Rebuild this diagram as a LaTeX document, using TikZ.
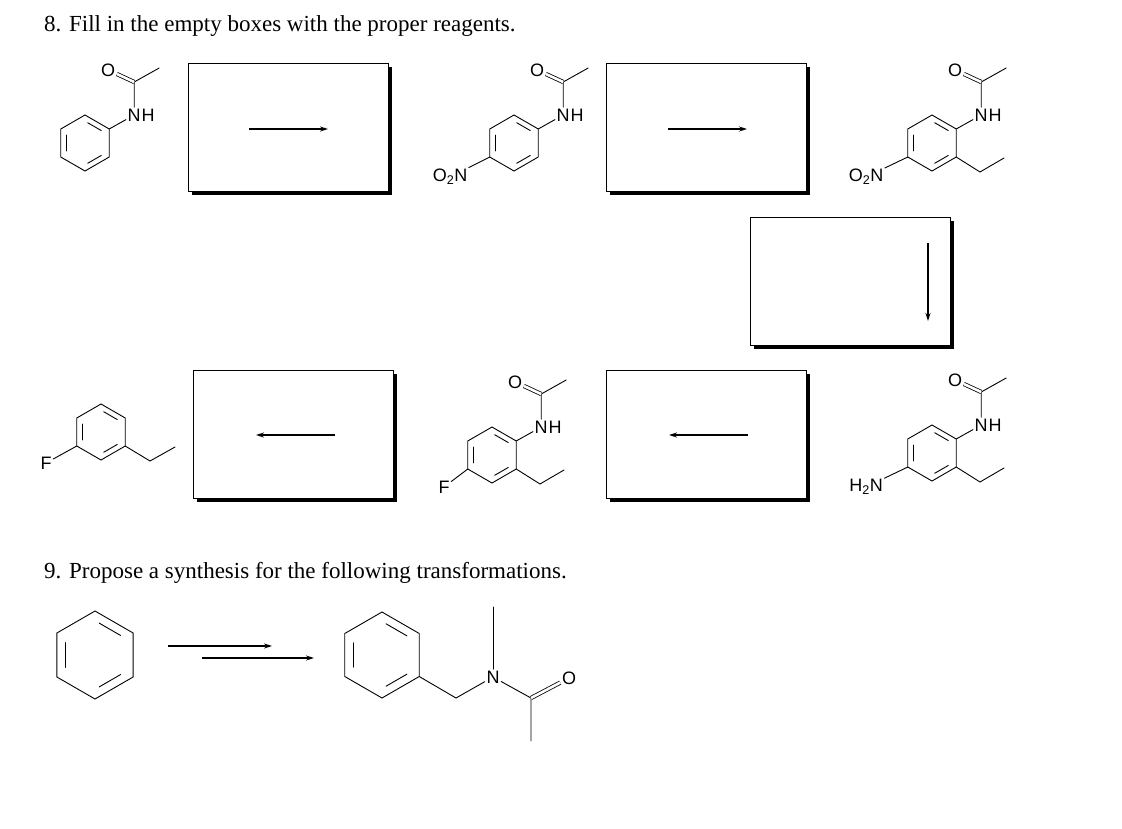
\documentclass[tikz,border=0pt]{standalone}
\usepackage{fontspec}
\setmainfont{Liberation Serif}
\newfontfamily\lsans{Liberation Sans}
\usetikzlibrary{calc,arrows.meta}
\tikzset{bond/.style={line width=0.9pt,line cap=round},
 dbond/.style={line width=0.8pt,double,double distance=2.6pt},
 atom/.style={font=\lsans\fontsize{18}{18}\selectfont,inner sep=1.5pt},
 rarrow/.style={line width=1.2pt,-{Stealth[length=8pt,width=5pt]}},
 heading/.style={font=\fontsize{23}{25}\selectfont,anchor=base west,inner sep=0}}
\newcommand{\benz}[3]{%
 \begin{scope}[shift={(#1,#2)}]
 \draw[bond] (-90:#3)--(-30:#3)--(30:#3)--(90:#3)--(150:#3)--(210:#3)--cycle;
 \foreach \a in {-90,30,150}{
  \draw[bond] ($(\a:0.78*#3)!0.14!(\a+60:0.78*#3)$)--($(\a+60:0.78*#3)!0.14!(\a:0.78*#3)$);}
 \end{scope}}
\newcommand{\rshadowbox}[4]{%
 \fill[black] (#1+4,#2+4) rectangle (#3+4,#4+4);
 \draw[fill=white,line width=0.8pt] (#1,#2) rectangle (#3,#4);}
\newcommand{\acet}[3]{%
 \coordinate (#3v) at (#1,#2);
 \node[atom] (#3n) at ($(#3v)+(25,-14)$) {N};
 \node[atom,anchor=west,inner sep=0] (#3h) at ($(#3n.east)+(-1,0)$) {H};
 \coordinate (#3c) at ($(#3n)+(0,-33)$);
 \node[atom] (#3o) at ($(#3c)+(-26,-12)$) {O};
 \coordinate (#3m) at ($(#3c)+(25,-14)$);
 \draw[bond] (#3v)--(#3n);
 \draw[bond] (#3n)--(#3c)--(#3m);
 \draw[dbond] (#3c)--(#3o);}
\begin{document}
\begin{tikzpicture}[x=1pt,y=-1pt]
\useasboundingbox (0,0) rectangle (1122,828);
\fill[white] (0,0) rectangle (1122,828);
\node[heading] at (44,31) {8. Fill in the empty boxes with the proper reagents.};
\node[heading] at (44,578) {9. Propose a synthesis for the following transformations.};
\rshadowbox{188}{63}{388}{191}
\rshadowbox{606}{63}{806}{191}
\rshadowbox{750}{217}{950}{345}
\rshadowbox{193}{370}{393}{498}
\rshadowbox{606}{370}{806}{498}
\coordinate (a1s) at (249,129); \coordinate (a1e) at (328,129);
\coordinate (a2s) at (668,129); \coordinate (a2e) at (747,129);
\coordinate (a3s) at (928,243); \coordinate (a3e) at (928,321);
\coordinate (a4s) at (335,435); \coordinate (a4e) at (256,435);
\coordinate (a5s) at (748,435); \coordinate (a5e) at (669,435);
\foreach \i in {1,...,5}{\draw[rarrow] (a\i s)--(a\i e);}
\benz{85}{143}{28}
\acet{109.2}{129}{m1}
\benz{514}{143}{28}
\acet{538.2}{129}{m2}
\node[atom] (m2no) at (450,177) {O\textsubscript{2}N};
\draw[bond] (489.8,157)--(m2no);
\benz{932}{143}{28}
\acet{956.2}{129}{m3}
\node[atom] (m3no) at (866,177) {O\textsubscript{2}N};
\draw[bond] (907.8,157)--(m3no);
\draw[bond] (956.2,157)--(980,172)--(1004,158);
\benz{932}{453}{28}
\acet{956.2}{439}{m4}
\node[atom] (m4nh) at (866,487) {H\textsubscript{2}N};
\draw[bond] (907.8,467)--(m4nh);
\draw[bond] (956.2,467)--(980,482)--(1004,468);
\benz{492}{455}{28}
\acet{516.2}{441}{m5}
\node[atom] (m5f) at (444,487) {F};
\draw[bond] (467.8,469)--(m5f);
\draw[bond] (516.2,469)--(540,484)--(564,470);
\benz{101}{432}{28}
\node[atom] (m6f) at (46,463) {F};
\draw[bond] (76.8,446)--(m6f);
\draw[bond] (125.2,446)--(150,461)--(175,447);
\benz{95}{655}{44}
\draw[rarrow] (168,646)--(272,646);
\draw[rarrow] (202,658)--(314,658);
\benz{382}{655}{43}
\coordinate (p1) at (419.2,676.5);
\coordinate (p2) at (456,698);
\node[atom] (pn) at (493,677) {N};
\coordinate (pm) at (493,607);
\coordinate (pc) at (531,698);
\node[atom] (po) at (569,678) {O};
\coordinate (pm2) at (531,741);
\draw[bond] (p1)--(p2)--(pn);
\draw[bond] (pn)--(pm);
\draw[bond] (pn)--(pc)--(pm2);
\draw[dbond] (pc)--(po);
\end{tikzpicture}
\end{document}
